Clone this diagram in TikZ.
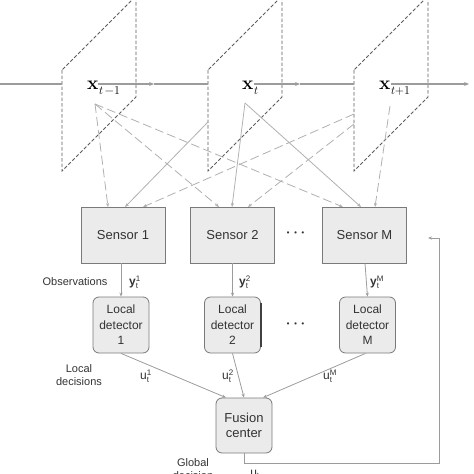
\documentclass[tikz,border=0pt]{standalone}
\usepackage{amsmath}
\usepackage{fontspec}
\newfontfamily\arial{Liberation Sans}
\usetikzlibrary{arrows.meta}
\definecolor{planec}{HTML}{5C5C5C}
\definecolor{linec}{HTML}{B0B0B0}
\definecolor{hlinec}{HTML}{9C9C9C}
\definecolor{boxc}{HTML}{7A7A7A}
\definecolor{fillc}{HTML}{EBEBEB}
\definecolor{textc}{HTML}{333333}
\newcommand{\xsub}[1]{\raisebox{-5pt}{\fontsize{12}{12}\selectfont\mdseries #1}}
\begin{document}
\begin{tikzpicture}[x=1pt,y=-1pt,
  plane/.style={draw=planec, line width=0.9pt, dash pattern=on 3.5pt off 2pt},
  hline/.style={draw=hlinec, line width=1.1pt},
  harrow/.style={hline, -{Stealth[length=5pt,width=4pt]}},
  conn/.style={draw=linec, line width=0.8pt, -{Stealth[length=4pt,width=3.2pt]}},
  dconn/.style={conn, dash pattern=on 9pt off 4pt},
  flow/.style={draw=hlinec, line width=0.8pt, -{Stealth[length=4pt,width=3.2pt]}},
  sensorbox/.style={draw=boxc, fill=fillc, line width=0.8pt, minimum width=84pt,
    minimum height=56pt, inner sep=0pt, text=textc, font=\arial\fontsize{13}{15}\selectfont},
  detbox/.style={draw=boxc, fill=fillc, line width=0.8pt, rounded corners=6pt,
    minimum width=56pt, minimum height=56pt, inner sep=0pt, align=center, text=textc,
    font=\arial\fontsize{12}{15.5}\selectfont},
  lab/.style={text=textc, inner sep=0pt, font=\arial\fontsize{11}{13}\selectfont, align=center},
  slab/.style={text=textc, inner sep=0pt, font=\arial\fontsize{12}{14}\selectfont},
  xlab/.style={inner sep=0pt, anchor=base west, font=\rmfamily\bfseries\fontsize{19}{20}\selectfont},
  dots/.style={inner sep=0pt, text=textc, font=\fontsize{15}{15}\selectfont\boldmath}]
\useasboundingbox (0,0) rectangle (474,474);

% planes
\draw[plane] (62,70) -- (62,171) -- (136,97) -- (136,-4) -- cycle;
\draw[plane] (208,70) -- (208,171) -- (282,97) -- (282,-4) -- cycle;
\draw[plane] (354,70) -- (354,171) -- (428,97) -- (428,-4) -- cycle;

% state labels
\node[xlab] (X1) at (87,89) {x\xsub{\textit{t}\,−1}};
\node[xlab] (X2) at (242,89) {x\xsub{\textit{t}}};
\node[xlab] (X3) at (379,89) {x\xsub{\textit{t}+1}};

% horizontal time line
\coordinate (h0) at (0,84);
\coordinate (e1) at (62,84);
\coordinate (a1) at (98,84);
\coordinate (t1) at (154,84);
\coordinate (e2) at (208,84);
\coordinate (a2) at (254,84);
\coordinate (t2) at (300,84);
\coordinate (e3) at (354,84);
\coordinate (a3) at (391,84);
\coordinate (t3) at (469,84);
\draw[hline] (h0) -- (e1);
\draw[harrow] (a1) -- (t1);
\draw[hline] (t1) -- (e2);
\draw[harrow] (a2) -- (t2);
\draw[hline] (t2) -- (e3);
\draw[harrow] (a3) -- (t3);

% sensors
\node[sensorbox] (S1) at (123,235) {Sensor 1};
\node[sensorbox] (S2) at (232.5,235) {Sensor 2};
\node[sensorbox] (SM) at (364.5,235) {Sensor M};
\node[dots] (dots1) at (297,233) {$\cdots$};

% connector points
\coordinate (p1) at (95,104);
\coordinate (p2) at (245,103);
\coordinate (q2) at (208,122);
\coordinate (r1) at (354,114);
\coordinate (r2) at (354,124);
\coordinate (p3) at (390,106);
\coordinate (s1a) at (108,207);
\coordinate (s1b) at (125,207);
\coordinate (s1c) at (143,207);
\coordinate (s2a) at (219,207);
\coordinate (s2b) at (232,207);
\coordinate (s2c) at (248,207);
\coordinate (sma) at (343,207);
\coordinate (smb) at (361,207);
\coordinate (smc) at (375,207);

\draw[dconn] (p1) -- (s1a);
\draw[dconn] (p1) -- (s2a);
\draw[dconn] (p1) -- (sma);
\draw[conn] (q2) -- (s1b);
\draw[conn] (p2) -- (s2b);
\draw[conn] (p2) -- (smb);
\draw[dconn] (r1) -- (s1c);
\draw[dconn] (r2) -- (s2c);
\draw[dconn] (p3) -- (smc);

% local detectors
\node[detbox] (D1) at (121,325) {Local\\detector\\1};
\node[detbox] (D2) at (232.5,325) {Local\\detector\\2};
\node[detbox] (DM) at (367.5,325) {Local\\detector\\M};
\node[dots] (dots2) at (297,324) {$\cdots$};
\draw[line width=1.4pt, black!75] ([yshift=-6pt]D2.north east) -- ([yshift=6pt]D2.south east);

\draw[flow] ([xshift=-2pt]S1.south) -- (D1.north);
\draw[flow] (S2.south) -- (D2.north);
\draw[flow] ([xshift=0.5pt]SM.south) -- (DM.north);

\node[lab] (obs) at (75,282) {Observations};
\node[slab] (y1) at (135,282) {\textbf{y}$_{\text{t}}^{\text{1}}$};
\node[slab] (y2) at (245,282) {\textbf{y}$_{\text{t}}^{\text{2}}$};
\node[slab] (yM) at (377,282) {\textbf{y}$_{\text{t}}^{\text{M}}$};

% fusion center
\node[detbox, minimum height=55pt, font=\arial\fontsize{13}{15}\selectfont] (F) at (244,425.5) {Fusion\\center};
\draw[flow] (D1.south) -- ([xshift=-18pt]F.north);
\draw[flow] (D2.south) -- (F.north);
\draw[flow] ([xshift=-2pt]DM.south) -- ([xshift=19pt]F.north);

\node[lab] (ldec) at (79,375) {Local\\decisions};
\node[slab] (u1) at (146,376) {u$_{\text{t}}^{\text{1}}$};
\node[slab] (u2) at (228,376) {u$_{\text{t}}^{\text{2}}$};
\node[slab] (uM) at (330,376) {u$_{\text{t}}^{\text{M}}$};

% feedback
\coordinate (fb) at (439,463);
\coordinate (fbend) at (428,238);
\draw[flow] (F.south) |- (fb) |- (fbend);

\node[lab, anchor=north] (glob) at (193,458) {Global\\decision};
\node[slab, anchor=north] (ug) at (255,470) {u$_{\text{t}}$};
\end{tikzpicture}
\end{document}
